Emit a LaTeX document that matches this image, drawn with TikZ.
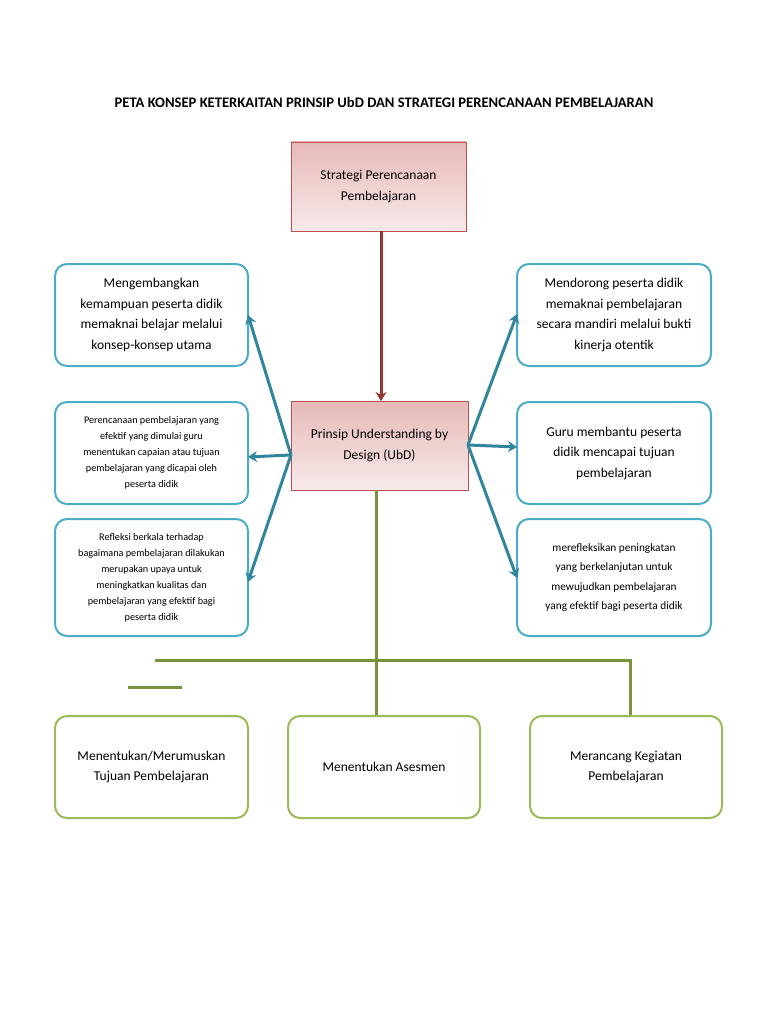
\documentclass[tikz,border=0pt]{standalone}
\usepackage{fontspec}
\setmainfont{Carlito}
\usetikzlibrary{arrows.meta}
\definecolor{bl}{HTML}{4BACC6}
\definecolor{bla}{HTML}{31859C}
\definecolor{gr}{HTML}{9BBB59}
\definecolor{grl}{HTML}{77933C}
\definecolor{rd}{HTML}{C0504D}
\definecolor{rda}{HTML}{953735}
\begin{document}
\begin{tikzpicture}[x=1pt,y=-1pt,
 txt/.style={align=center,font=\fontsize{13.5}{20.5}\selectfont},
 sm/.style={align=center,font=\fontsize{10.2}{16}\selectfont},
 rbox/.style={draw=rd,line width=0.8pt,top color=rd!40,bottom color=rd!12},
 bbox/.style={draw=bl,line width=2pt,rounded corners=12pt,fill=white},
 gbox/.style={draw=gr,line width=2pt,rounded corners=12pt,fill=white},
 barr/.style={draw=bla,line width=3pt,-{Stealth[length=9pt,width=11pt]}},
 gl/.style={draw=grl,line width=3pt}]
\useasboundingbox (0,0) rectangle (768,1024);
\node[font=\bfseries\fontsize{14.6}{18}\selectfont] (t) at (384,102) {PETA KONSEP KETERKAITAN PRINSIP UbD DAN STRATEGI PERENCANAAN PEMBELAJARAN};
\path[rbox] (291,142) rectangle (466,231);
\node[txt] (s) at (378.5,186.5) {Strategi Perencanaan\\Pembelajaran};
\path[rbox] (291,401) rectangle (468,490);
\node[txt] (u) at (379.5,445.5) {Prinsip Understanding by\\Design (UbD)};
\coordinate (st) at (381,231); \coordinate (ut) at (381,401);
\draw[draw=rda,line width=3pt,-{Stealth[length=9pt,width=11pt]}] (st) -- (ut);
% left boxes
\draw[bbox] (55,264) rectangle (248,366);
\node[txt] (l1) at (151.5,315) {Mengembangkan\\kemampuan peserta didik\\memaknai belajar melalui\\konsep-konsep utama};
\draw[bbox] (55,402) rectangle (248,504);
\node[sm] (l2) at (151.5,453) {Perencanaan pembelajaran yang\\efektif yang dimulai guru\\menentukan capaian atau tujuan\\pembelajaran yang dicapai oleh\\peserta didik};
\draw[bbox] (55,519) rectangle (248,636);
\node[sm] (l3) at (151.5,577.5) {Refleksi berkala terhadap\\bagaimana pembelajaran dilakukan\\merupakan upaya untuk\\meningkatkan kualitas dan\\pembelajaran yang efektif bagi\\peserta didik};
% right boxes
\draw[bbox] (517,264) rectangle (711,366);
\node[txt] (r1) at (614,315) {Mendorong peserta didik\\memaknai pembelajaran\\secara mandiri melalui bukti\\kinerja otentik};
\draw[bbox] (517,402) rectangle (711,504);
\node[txt] (r2) at (614,453) {Guru membantu peserta\\didik mencapai tujuan\\pembelajaran};
\draw[bbox] (517,519) rectangle (711,636);
\node[sm,font=\fontsize{11.3}{19.5}\selectfont] (r3) at (614,577.5) {merefleksikan peningkatan\\yang berkelanjutan untuk\\mewujudkan pembelajaran\\yang efektif bagi peserta didik};
% arrows
\coordinate (ul) at (291,455); \coordinate (ur) at (468,445);
\coordinate (a1) at (248,315); \coordinate (a2) at (248,457); \coordinate (a3) at (248,582);
\coordinate (b1) at (517,314); \coordinate (b2) at (517,447); \coordinate (b3) at (517,578);
\foreach \p in {a1,a2,a3} \draw[barr] (ul) -- (\p);
\foreach \p in {b1,b2,b3} \draw[barr] (ur) -- (\p);
% green lines
\coordinate (ub) at (376,490); \coordinate (ab) at (376,716);
\coordinate (h1) at (155,660); \coordinate (h2) at (630,660); \coordinate (h3) at (630,716);
\coordinate (s1) at (128,687); \coordinate (s2) at (182,687);
\draw[gl] (ub) -- (ab);
\draw[gl] (h1) -- (h2) -- (h3);
\draw[gl] (s1) -- (s2);
% bottom boxes
\draw[gbox] (55,716) rectangle (248,818);
\node[txt] (g1) at (151.5,767) {Menentukan/Merumuskan\\Tujuan Pembelajaran};
\draw[gbox] (288,716) rectangle (480,818);
\node[txt] (g2) at (384,767) {Menentukan Asesmen};
\draw[gbox] (530,716) rectangle (722,818);
\node[txt] (g3) at (626,767) {Merancang Kegiatan\\Pembelajaran};
\end{tikzpicture}
\end{document}
